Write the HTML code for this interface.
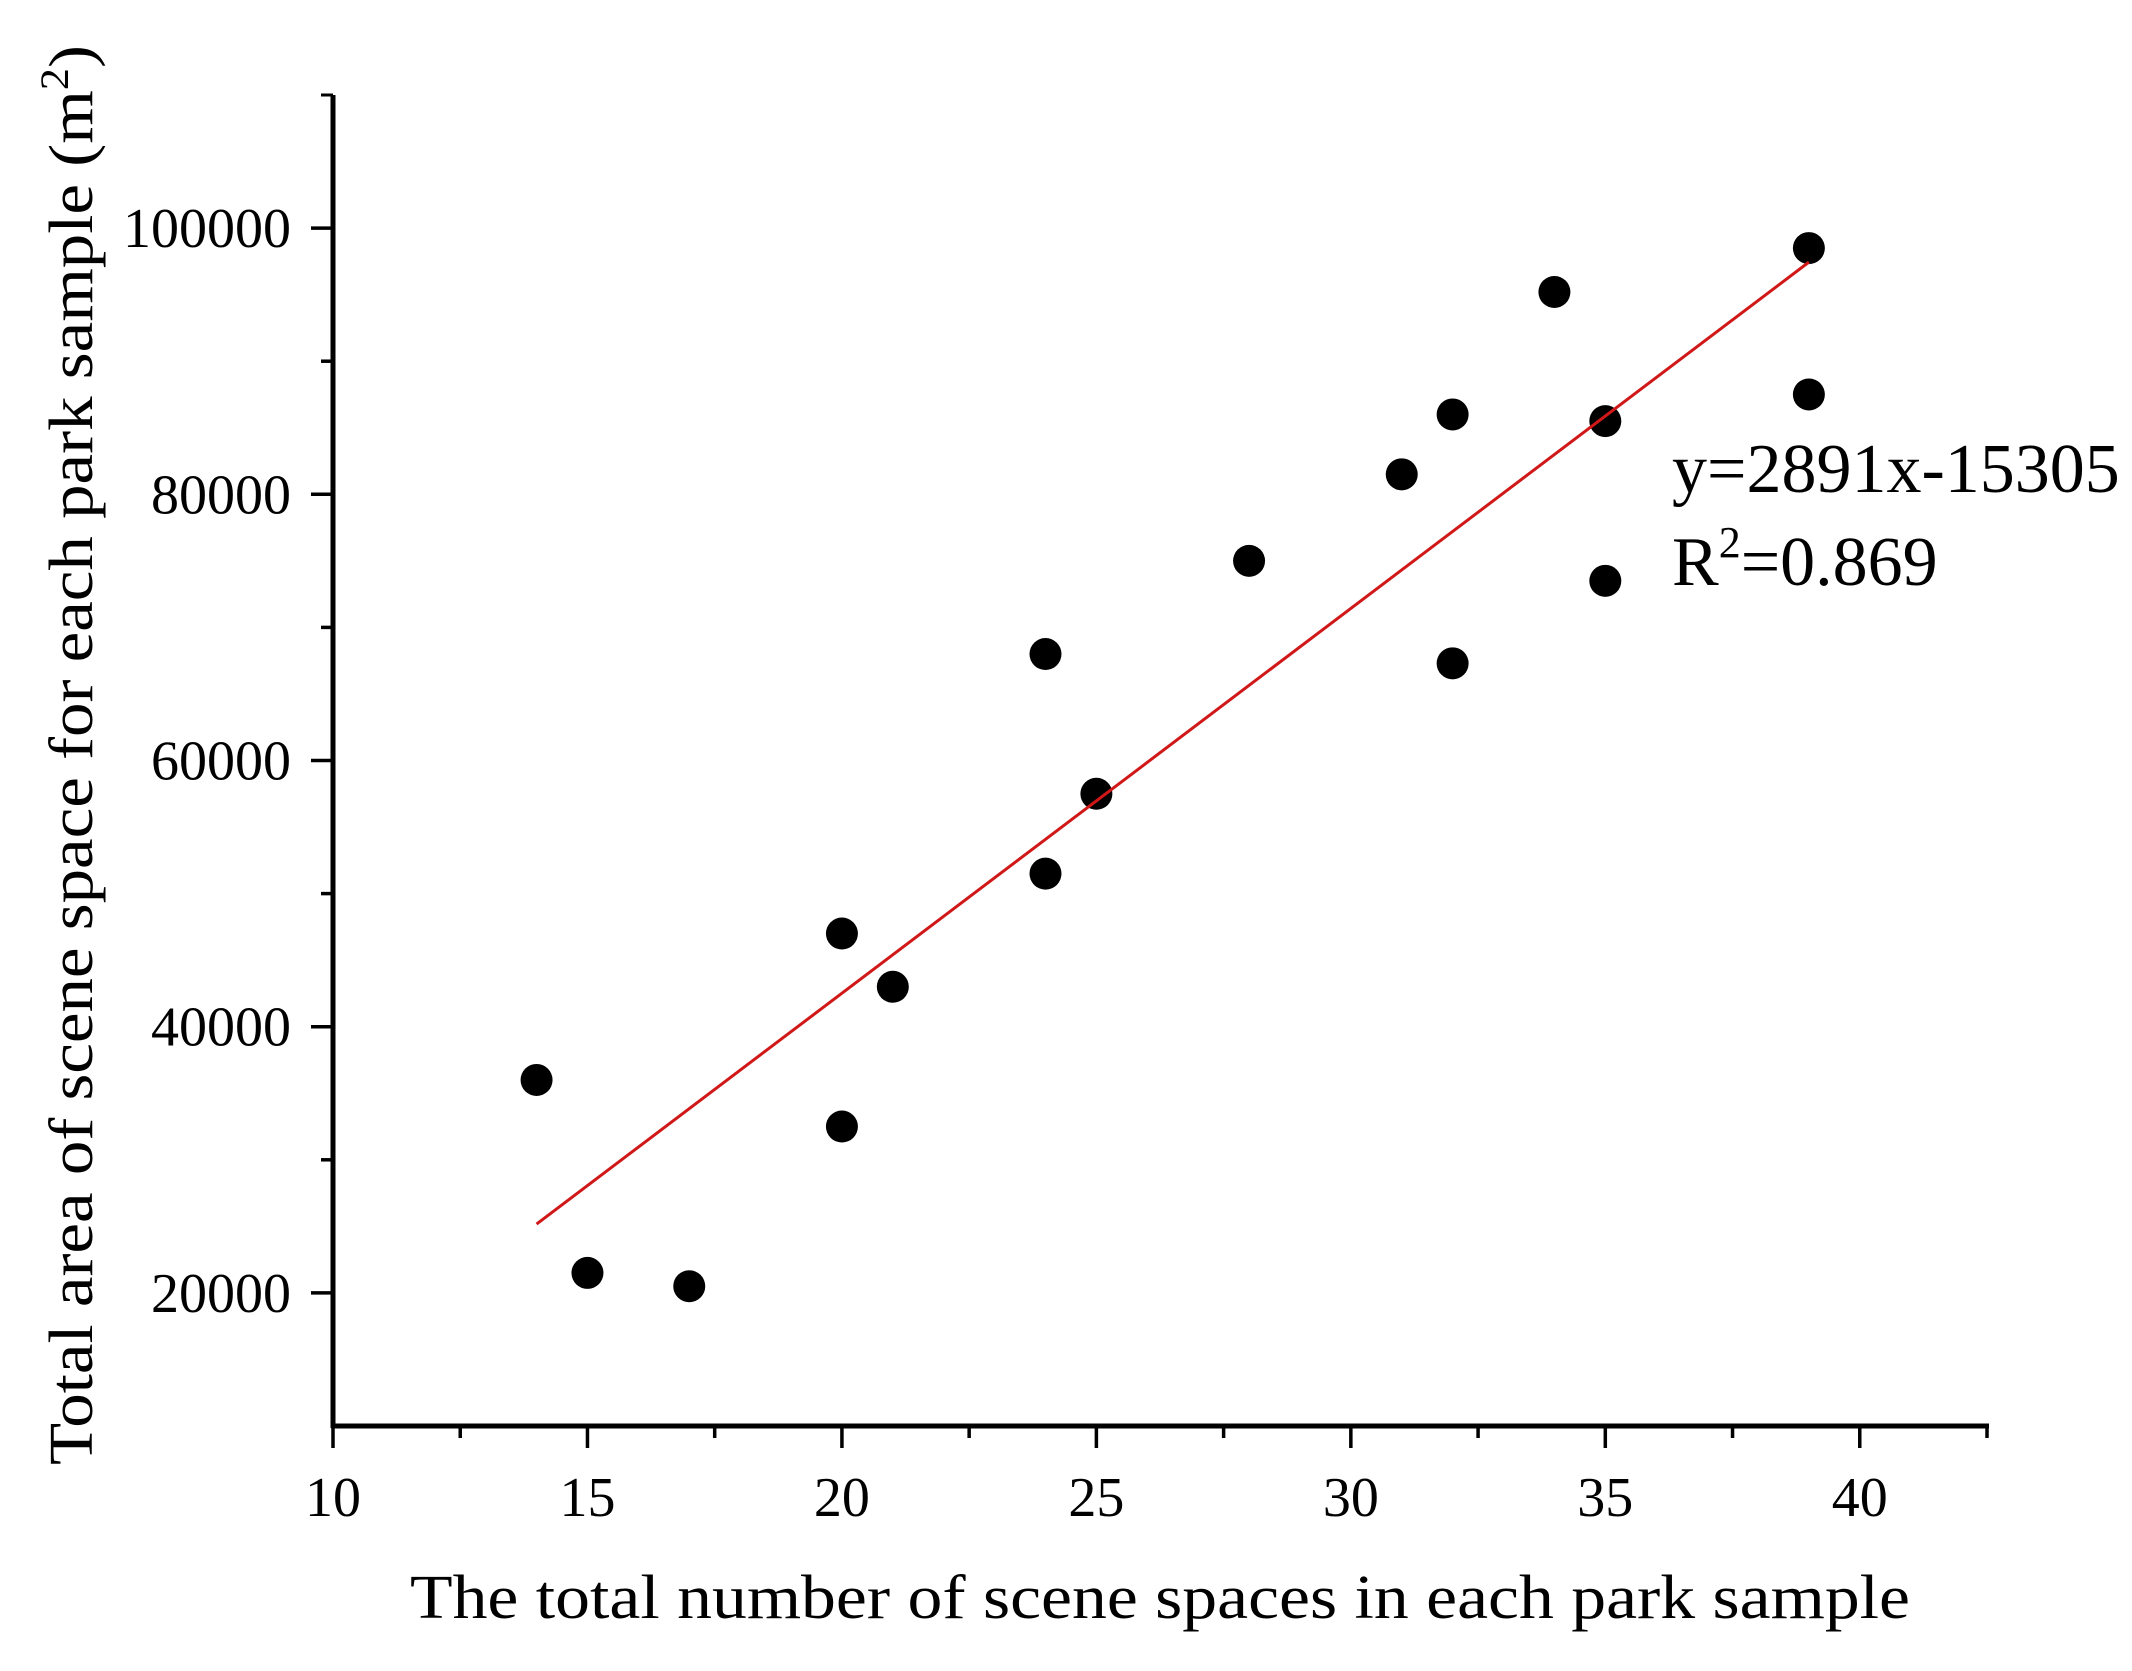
<!DOCTYPE html>
<html><head><meta charset="utf-8"><style>
html,body{margin:0;padding:0;background:#fff;}
svg{display:block;font-family:"Liberation Serif",serif;}
</style></head><body>
<svg id="chart" width="2132" height="1671" viewBox="0 0 2132 1671" xmlns="http://www.w3.org/2000/svg">
<g id="axes"></g>
<g id="marks"></g>
<text x="1160" y="1618" font-size="62" text-anchor="middle" textLength="1500" lengthAdjust="spacingAndGlyphs">The total number of scene  spaces in each park sample</text>
<text transform="translate(92,755) rotate(-90)" font-size="62" text-anchor="middle" textLength="1420" lengthAdjust="spacingAndGlyphs">Total area of scene space for each park sample (m<tspan font-size="40" dy="-24">2</tspan><tspan dy="24">)</tspan></text>
<text x="1672" y="492" font-size="70">y=2891x-15305</text>
<text x="1672" y="585" font-size="70">R<tspan font-size="44" dy="-28">2</tspan><tspan dy="28">=0.869</tspan></text>
</svg>
<script>
const xs=[14,15,17,20,20,21,24,24,25,28,31,32,32,34,35,35,39,39];
const ys=[36000,21500,20500,47000,32500,43000,68000,51500,57500,75000,81500,86000,67300,95200,85500,73500,98500,87500];
const xTicks=[10,15,20,25,30,35,40];
const yTicks=[20000,40000,60000,80000,100000];
const slope=2891, intercept=-15305;
const fitRange=[14,39];
const NS='http://www.w3.org/2000/svg';
const X0=333,X1=1987,Y0=1426,Y1=95;
const xmin=10,xmax=42.5,ymin=10000,ymax=110000;
const sx=v=>X0+(v-xmin)/(xmax-xmin)*(X1-X0);
const sy=v=>Y0-(v-ymin)/(ymax-ymin)*(Y0-Y1);
function mk(tag,attrs,parent){const e=document.createElementNS(NS,tag);for(const k in attrs)e.setAttribute(k,attrs[k]);parent.appendChild(e);return e;}
const axes=document.getElementById('axes'),marks=document.getElementById('marks');
let e=mk('line',{x1:X0,y1:Y1,x2:X0,y2:Y0+2,stroke:'#000','stroke-width':5},axes);


e=mk('line',{x1:X0-2,y1:Y0,x2:X1+2,y2:Y0,stroke:'#000','stroke-width':5},axes);


e=mk('line',{x1:X0-12,y1:Y1,x2:X0,y2:Y1,stroke:'#000','stroke-width':3},axes);


for(let v=12.5;v<=42.5;v+=5){e=mk('line',{x1:sx(v),y1:Y0,x2:sx(v),y2:Y0+12,stroke:'#000','stroke-width':3.5},axes);

}
for(let v=30000;v<=90000;v+=20000){e=mk('line',{x1:X0-12,y1:sy(v),x2:X0,y2:sy(v),stroke:'#000','stroke-width':3.5},axes);

}
xTicks.forEach(v=>{e=mk('line',{x1:sx(v),y1:Y0,x2:sx(v),y2:Y0+22,stroke:'#000','stroke-width':3.5},axes);


e=mk('text',{x:sx(v),y:1516,'font-size':56,'text-anchor':'middle'},axes);e.textContent=v;

});
yTicks.forEach(v=>{e=mk('line',{x1:X0-22,y1:sy(v),x2:X0,y2:sy(v),stroke:'#000','stroke-width':3.5},axes);


e=mk('text',{x:291,y:sy(v)+19,'font-size':56,'text-anchor':'end'},axes);e.textContent=v;

});
xs.forEach((x,i)=>{e=mk('circle',{cx:sx(x),cy:sy(ys[i]),r:16,fill:'#000'},marks);

});
e=mk('line',{x1:sx(fitRange[0]),y1:sy(slope*fitRange[0]+intercept),x2:sx(fitRange[1]),y2:sy(slope*fitRange[1]+intercept),stroke:'#d01818','stroke-width':3},marks);


</script>
</body></html>
